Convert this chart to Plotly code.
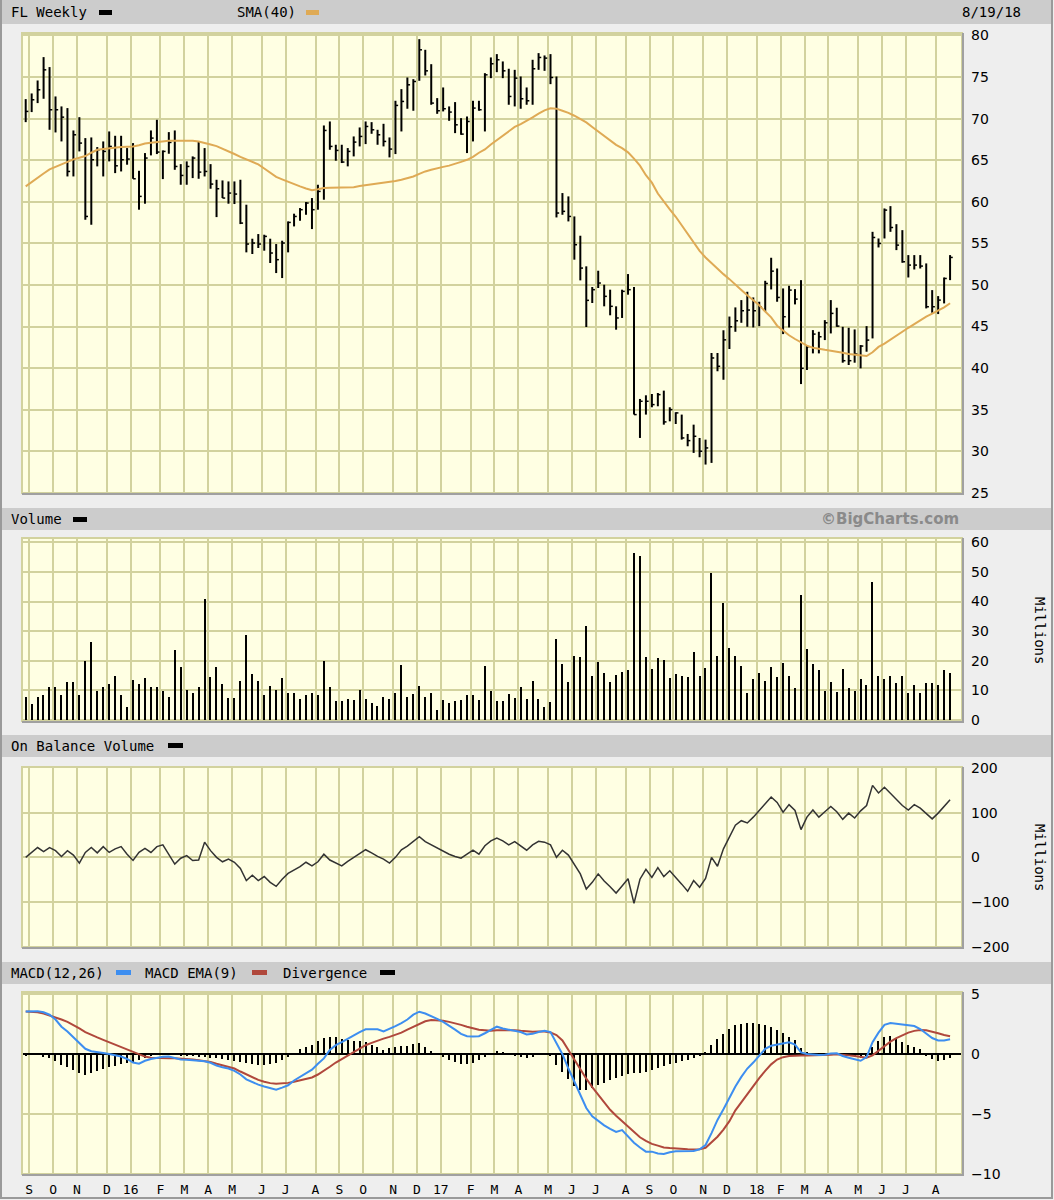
import plotly.graph_objects as go
import pandas as pd

# ---------------- data ----------------
weeks = pd.date_range("2015-08-28", periods=156, freq="W-FRI")

high = [72.35, 73.03, 74.59, 77.4, 76.2, 72.67, 71.47, 71.27, 68.58, 70.18,
        67.66, 67.74, 66.58, 67.26, 68.46, 67.94, 67.94, 66.46, 67.06, 63.73,
        65.86, 68.58, 69.86, 66.18, 68.38, 68.58, 64.53, 64.86, 65.46, 67.26,
        66.46, 64.53, 62.65, 62.57, 62.45, 62.45, 62.65, 59.65, 55.56, 56.12,
        56.04, 55.56, 54.92, 55.32, 57.64, 58.57, 59.25, 59.97, 60.45, 62.05,
        69.18, 69.66, 66.86, 66.86, 66.46, 67.86, 68.94, 69.66, 69.58, 68.66,
        69.38, 67.74, 72.15, 73.55, 74.95, 74.75, 79.56, 78.28, 76.55, 72.47,
        73.75, 71.47, 71.99, 70.06, 70.26, 72.15, 72.15, 75.47, 77.36, 77.76,
        76.88, 76.0, 75.87, 75.07, 73.75, 77.08, 77.88, 77.6, 77.76, 75.07,
        61.05, 60.65, 58.24, 55.92, 52.24, 49.75, 51.71, 50.03, 49.43, 47.43,
        49.43, 51.31, 49.75, 36.29, 36.73, 36.89, 37.01, 37.29, 35.29, 34.69,
        34.41, 32.08, 33.2, 31.6, 31.4, 41.82, 41.82, 44.55, 46.2, 47.3,
        48.18, 49.18, 48.5, 47.98, 50.5, 53.27, 51.98, 49.58, 49.9, 49.5,
        50.58, 42.77, 44.57, 44.37, 45.77, 48.18, 47.26, 44.97, 44.85, 44.65,
        42.77, 45.05, 56.39, 55.59, 59.2, 59.48, 57.31, 56.59, 53.59, 53.59,
        53.59, 52.59, 49.38, 48.66, 50.9, 53.59]

low = [69.58, 70.79, 71.87, 72.39, 68.66, 68.34, 67.26, 63.05, 63.05, 66.06,
       57.84, 57.24, 64.26, 63.05, 64.86, 63.45, 63.65, 64.46, 62.77, 59.05,
       59.77, 65.58, 65.74, 62.73, 65.78, 63.85, 62.05, 62.05, 62.85, 62.77,
       63.05, 61.57, 58.16, 60.45, 59.77, 59.73, 57.32, 53.92, 53.72, 54.44,
       54.12, 52.64, 51.43, 50.83, 53.92, 57.04, 57.72, 58.44, 56.72, 59.05,
       60.25, 66.26, 64.94, 64.66, 64.26, 65.46, 66.66, 66.94, 68.18, 66.86,
       66.66, 65.34, 65.74, 68.46, 71.19, 70.95, 74.55, 75.19, 71.67, 70.58,
       70.87, 69.74, 68.26, 68.06, 65.86, 67.26, 70.95, 68.46, 74.87, 75.59,
       74.87, 71.67, 71.47, 71.19, 71.67, 71.67, 75.87, 75.75, 74.15, 58.12,
       58.44, 57.64, 53.04, 50.55, 44.94, 47.83, 49.63, 47.43, 46.35, 44.62,
       46.03, 48.83, 34.41, 31.6, 34.41, 35.29, 35.41, 33.2, 33.6, 33.28,
       31.4, 30.6, 29.8, 29.28, 28.4, 28.6, 39.62, 38.6, 42.3, 44.37,
       45.45, 44.97, 44.89, 45.05, 46.78, 49.46, 47.98, 44.09, 44.89, 47.66,
       38.08, 39.77, 41.77, 41.77, 43.37, 44.17, 44.97, 40.65, 40.37, 40.65,
       39.97, 41.97, 43.57, 54.51, 55.59, 56.39, 54.19, 52.67, 50.9, 51.86,
       51.98, 47.18, 46.66, 46.5, 47.78, 50.58]

close = [70.87, 72.27, 73.47, 75.87, 71.07, 71.07, 70.18, 63.65, 68.06, 67.06,
         58.24, 65.06, 66.26, 66.06, 66.66, 64.33, 65.06, 65.14, 62.77, 60.65,
         65.26, 67.66, 65.98, 66.06, 67.14, 64.25, 63.17, 64.25, 65.26, 63.57,
         63.65, 62.13, 61.57, 60.45, 61.05, 60.93, 57.44, 54.92, 55.04, 54.92,
         55.84, 53.84, 53.04, 55.04, 57.52, 58.24, 59.05, 59.85, 59.05, 61.25,
         68.58, 66.66, 66.18, 64.78, 66.06, 67.18, 67.86, 69.06, 68.66, 68.06,
         67.26, 66.34, 71.59, 72.07, 74.07, 74.47, 78.28, 75.75, 71.87, 70.95,
         71.19, 70.79, 69.26, 68.14, 69.66, 71.27, 71.07, 75.27, 76.6, 77.08,
         75.75, 72.67, 74.87, 72.39, 72.15, 76.0, 77.36, 77.28, 74.95, 58.65,
         58.85, 58.24, 54.84, 52.03, 48.15, 49.43, 50.23, 48.63, 47.43, 46.03,
         49.23, 49.43, 34.41, 36.01, 36.01, 35.61, 36.81, 33.53, 35.01, 34.61,
         31.6, 31.28, 31.8, 30.0, 30.4, 41.22, 40.22, 43.4, 44.97, 45.69,
         46.9, 46.98, 46.9, 47.38, 50.18, 51.66, 48.5, 46.18, 49.38, 48.3,
         39.97, 42.57, 44.09, 43.77, 45.45, 46.58, 45.05, 40.89, 40.89, 41.69,
         42.65, 43.37, 55.71, 54.99, 59.0, 56.91, 54.79, 52.79, 52.39, 52.39,
         52.27, 47.38, 47.38, 48.18, 50.78, 53.31]

sma40 = [61.85, 62.4, 62.9, 63.4, 63.9, 64.2, 64.5, 64.8, 65.1, 65.3,
         65.5, 65.9, 66.25, 66.35, 66.45, 66.55, 66.6, 66.62, 66.65, 66.8,
         67.0, 67.1, 67.2, 67.3, 67.35, 67.35, 67.35, 67.35, 67.35, 67.25,
         67.1, 66.9, 66.7, 66.4, 66.1, 65.75, 65.4, 65.1, 64.8, 64.5,
         64.0, 63.5, 63.0, 62.7, 62.4, 62.1, 61.85, 61.6, 61.4, 61.5,
         61.65, 61.7, 61.7, 61.7, 61.72, 61.75, 61.9, 62.0, 62.1, 62.2,
         62.25, 62.35, 62.5, 62.65, 62.85, 63.05, 63.35, 63.65, 63.85, 64.05,
         64.2, 64.35, 64.55, 64.8, 65.05, 65.4, 65.9, 66.3, 66.9, 67.4,
         67.9, 68.45, 69.0, 69.35, 69.7, 70.15, 70.6, 71.0, 71.25, 71.2,
         70.95, 70.7, 70.35, 69.95, 69.55, 69.0, 68.45, 67.9, 67.3, 66.85,
         66.45, 65.95, 65.2, 64.35, 63.2, 62.3, 61.0, 60.0, 59.1, 58.2,
         57.2, 56.2, 55.2, 54.1, 53.3, 52.6, 51.9, 51.3, 50.7, 50.1,
         49.4, 48.75, 48.15, 47.55, 46.8, 46.1, 45.1, 44.5, 43.95, 43.5,
         43.1, 42.7, 42.45, 42.3, 42.2, 42.1, 42.0, 41.85, 41.7, 41.6,
         41.5, 41.45, 41.9, 42.55, 42.95, 43.45, 43.95, 44.4, 44.85, 45.3,
         45.8, 46.2, 46.55, 46.9, 47.3, 47.8]

volume = [7.7, 5.3, 7.7, 8.6, 11.1, 11.1, 8.6, 12.7, 12.7, 8.3,
          19.9, 26.2, 9.7, 11.1, 12.2, 14.9, 8.3, 4.4, 13.6, 12.2,
          14.1, 11.3, 11.3, 9.7, 7.7, 23.8, 17.9, 10.2, 9.2, 11.3,
          40.7, 14.6, 17.9, 12.2, 7.4, 7.4, 13.1, 28.8, 15.5, 13.1,
          8.6, 11.6, 10.0, 14.1, 9.2, 9.2, 7.2, 8.6, 9.2, 8.6,
          19.9, 11.1, 6.3, 6.3, 7.2, 6.8, 10.2, 7.2, 5.8, 4.8,
          7.7, 7.2, 9.2, 18.5, 7.7, 8.9, 11.6, 7.7, 9.2, 3.3,
          6.9, 5.8, 6.3, 6.9, 8.6, 8.3, 6.9,
          18.2, 9.9, 6.5, 6.5, 8.8, 7.3, 11.3, 7.0, 13.3, 7.0,
          4.5, 6.0, 27.2, 18.8, 12.9, 21.7, 21.2, 31.7, 14.9, 19.7,
          15.8, 12.9, 15.2, 16.3, 16.9, 56.3, 55.4, 21.2, 17.2, 20.8,
          20.3, 14.3, 15.4, 14.9, 14.4, 22.9, 14.9, 17.4, 49.5, 21.7,
          39.6, 24.2, 21.7, 18.2, 9.0, 13.8, 15.8, 13.3, 17.8, 14.4,
          19.4, 14.9, 10.9, 42.2, 23.9, 18.8, 16.9, 9.9, 12.9, 9.6,
          17.2, 10.9, 9.9, 13.8, 11.8, 46.5, 14.9, 13.8, 14.9, 12.4,
          14.9, 9.0, 11.8, 9.0, 12.4, 12.4, 11.8, 16.9, 15.8]

obv = [0, 11, 22, 13, 22, 15, 2, 15, 5, -13,
       11, 22, 10, 24, 11, 19, 24, 7, -7, 11,
       20, 11, 24, 28, 7, -15, -2, 4, -7, -6,
       34, 15, 0, -10, -4, -11, -25, -52, -40, -52,
       -43, -56, -65, -49, -36, -28, -21, -11, -19, -10,
       7, -6, -13, -19, -9, 0, 7, 17, 10, 2,
       -4, -13, 0, 17, 25, 35, 46, 35, 28, 22,
       15, 7, 2, -2, 7, 16, 7, 26, 37, 43,
       37, 28, 35, 25, 16, 28, 36, 34, 28, 0,
       16, 5, -16, -37, -71, -56, -37, -53, -66, -80,
       -64, -48, -103, -49, -27, -45, -23, -43, -30, -44,
       -60, -76, -52, -67, -47, 0, -20, 19, 46, 72,
       82, 77, 90, 105, 120, 135, 123, 101, 118, 105,
       62, 90, 106, 90, 102, 114, 102, 85, 99, 88,
       104, 116, 161, 144, 157, 144, 131, 116, 106, 118,
       110, 99, 86, 99, 114, 129]

macd = [3.56, 3.56, 3.6, 3.5, 3.3, 2.9, 2.3, 1.9, 1.4, 0.9,
        0.45, 0.25, 0.2, 0.1, 0.02, -0.08, -0.2, -0.4, -0.7, -0.8,
        -0.55, -0.4, -0.3, -0.22, -0.2, -0.35, -0.45, -0.47, -0.5, -0.55,
        -0.6, -0.72, -0.95, -1.1, -1.2, -1.4, -1.7, -2.1, -2.35, -2.55,
        -2.7, -2.85, -2.97, -2.8, -2.6, -2.2, -1.9, -1.65, -1.3, -0.8,
        -0.35, 0.35, 0.75, 1.0, 1.3, 1.6, 1.85, 2.08, 2.1, 2.08,
        1.9, 2.1, 2.35, 2.6, 2.9, 3.3, 3.55, 3.4, 3.2, 2.95,
        2.7, 2.4, 2.05, 1.7, 1.5, 1.47, 1.5, 1.75, 2.0, 2.3,
        2.15, 2.05, 1.95, 1.85, 1.65, 1.7, 1.85, 1.95, 1.85, 0.9,
        0.0, -1.2, -2.3, -3.3, -4.5, -5.2, -5.6, -5.95, -6.25, -6.5,
        -6.35, -6.9, -7.4, -7.8, -8.15, -8.15, -8.3, -8.35, -8.2, -8.12,
        -8.1, -8.1, -8.1, -7.95, -7.6, -6.6, -5.5, -4.6, -3.6, -2.7,
        -1.9, -1.2, -0.7, -0.1, 0.45, 0.7, 0.8, 0.9, 1.0, 0.8,
        0.15, 0.02, -0.05, -0.06, -0.05, 0.05, 0.08, -0.15, -0.3, -0.4,
        -0.55, -0.25, 1.0, 1.8, 2.45, 2.6, 2.55, 2.45, 2.4, 2.35,
        2.1, 1.75, 1.35, 1.15, 1.15, 1.25]

signal = [3.56, 3.56, 3.5, 3.4, 3.25, 3.1, 2.9, 2.7, 2.45, 2.15,
          1.85, 1.6, 1.4, 1.2, 1.0, 0.8, 0.55, 0.35, 0.15, -0.05,
          -0.2, -0.3, -0.33, -0.33, -0.33, -0.33, -0.35, -0.4, -0.45, -0.5,
          -0.58, -0.65, -0.8, -0.92, -1.05, -1.2, -1.45, -1.7, -1.95, -2.15,
          -2.3, -2.42, -2.47, -2.45, -2.4, -2.3, -2.2, -2.1, -1.95, -1.7,
          -1.4, -1.05, -0.7, -0.4, -0.1, 0.2, 0.45, 0.75, 0.95, 1.15,
          1.3, 1.45, 1.6, 1.8, 2.05, 2.3, 2.55, 2.75, 2.85, 2.85,
          2.8, 2.7, 2.6, 2.45, 2.3, 2.15, 2.05, 2.0, 1.95, 2.0,
          2.02, 2.03, 2.0, 1.95, 1.9, 1.88, 1.89, 1.89, 1.82, 1.6,
          1.15, 0.35, -0.4, -1.3, -2.05, -2.75, -3.4, -4.05, -4.65, -5.15,
          -5.6, -6.0, -6.5, -6.95, -7.25, -7.5, -7.65, -7.8, -7.85, -7.9,
          -7.92, -7.95, -7.97, -7.95, -7.83, -7.4, -6.9, -6.3, -5.6, -4.7,
          -4.0, -3.3, -2.7, -2.0, -1.4, -0.85, -0.45, -0.25, -0.15, -0.11,
          -0.1, -0.1, -0.1, -0.08, -0.07, -0.05, 0.0, -0.02, -0.1, -0.15,
          -0.25, -0.3, -0.1, 0.3, 0.7, 1.05, 1.35, 1.6, 1.8, 1.95,
          2.02, 2.0, 1.9, 1.75, 1.6, 1.5]

divergence = [-0.1, -0.05, -0.05, -0.2, -0.35, -0.6, -0.9, -1.1, -1.35, -1.55,
              -1.7, -1.6, -1.4, -1.2, -1.1, -1.0, -0.85, -0.75, -0.65, -0.5,
              -0.3, -0.15, -0.05, 0.05, 0.05, -0.05, -0.1, -0.12, -0.15, -0.2,
              -0.25, -0.3, -0.35, -0.4, -0.45, -0.55, -0.65, -0.75, -0.85, -0.9,
              -0.9, -0.85, -0.7, -0.5, -0.25, 0.1, 0.4, 0.6, 0.8, 1.1,
              1.35, 1.4, 1.4, 1.3, 1.2, 1.1, 1.1, 1.0, 0.8, 0.6,
              0.35, 0.5, 0.6, 0.65, 0.7, 0.85, 0.9, 0.6, 0.3, 0.0,
              -0.2, -0.45, -0.65, -0.8, -0.8, -0.7, -0.5, -0.2, 0.05, 0.25,
              0.2, 0.0, -0.1, -0.25, -0.3, -0.2, -0.05, 0.05, -0.1, -0.9,
              -1.5, -2.1, -2.7, -3.0, -3.0, -2.8, -2.6, -2.4, -2.2, -2.0,
              -1.8, -1.65, -1.6, -1.55, -1.45, -1.3, -1.15, -1.0, -0.85, -0.7,
              -0.55, -0.45, -0.3, -0.15, 0.2, 0.8, 1.3, 1.7, 2.1, 2.4,
              2.55, 2.6, 2.6, 2.55, 2.45, 2.3, 2.05, 1.75, 1.45, 1.15,
              0.5, 0.2, 0.1, 0.05, 0.03, 0.05, 0.08, -0.05, -0.12, -0.2,
              -0.3, -0.1, 0.6, 1.1, 1.45, 1.5, 1.3, 1.05, 0.8, 0.6,
              0.4, -0.1, -0.4, -0.55, -0.45, -0.3]

price_ticks = [25, 30, 35, 40, 45, 50, 55, 60, 65, 70, 75, 80]
vol_ticks = [0, 10, 20, 30, 40, 50, 60]
obv_ticks = [-200, -100, 0, 100, 200]
macd_ticks = [-10, -5, 0, 5]

# ---------------- styling ----------------
W, H = 1054, 1200
PAPER = "#eeeeee"
HEADER = "#cccccc"
PLOTBG = "#ffffe3"
GRID = "#d2d29e"
SMA_C = "#dfaa55"
BLUE = "#3d8ef0"
RED = "#b0483c"
MONO = "DejaVu Sans Mono"
SANS = "DejaVu Sans"

def px(x):
    return x / W

def py(y):
    return 1 - y / H

X0, X1 = 22, 962
PANELS = {"price": (33, 493), "vol": (538, 721), "obv": (767, 947), "macd": (992, 1174)}

idx = list(range(len(weeks)))

# month ticks: gridline just before the first week whose Sunday falls in a new month
sundays = weeks + pd.Timedelta(days=2)
tickvals, ticktext = [], []
for i in range(1, len(weeks)):
    if sundays[i].month != sundays[i - 1].month:
        tickvals.append(i - 0.4)
        m = sundays[i].month
        ticktext.append(f"{sundays[i].year % 100:02d}" if m == 1 else "JFMAMJJASOND"[m - 1])

fig = go.Figure()

# price HL bars + close ticks
bx, by, cx, cy = [], [], [], []
for i, (h, l, c) in enumerate(zip(high, low, close)):
    bx += [i, i, None]
    by += [l, h, None]
    cx += [i, i + 0.45, None]
    cy += [c, c, None]
fig.add_trace(go.Scatter(x=bx, y=by, mode="lines", line=dict(color="black", width=2),
                         xaxis="x", yaxis="y", hoverinfo="skip"))
fig.add_trace(go.Scatter(x=cx, y=cy, mode="lines", line=dict(color="black", width=1.5),
                         xaxis="x", yaxis="y", hoverinfo="skip"))
fig.add_trace(go.Scatter(x=idx, y=sma40, mode="lines", line=dict(color=SMA_C, width=2),
                         xaxis="x", yaxis="y"))

# volume
fig.add_trace(go.Bar(x=idx, y=volume, width=0.2, marker=dict(color="black", line=dict(width=0)),
                     xaxis="x2", yaxis="y2"))
# OBV
fig.add_trace(go.Scatter(x=idx, y=obv, mode="lines", line=dict(color="#333333", width=1.5),
                         xaxis="x3", yaxis="y3"))
# MACD
fig.add_trace(go.Bar(x=idx, y=divergence, width=0.2, marker=dict(color="black", line=dict(width=0)),
                     xaxis="x4", yaxis="y4"))
fig.add_trace(go.Scatter(x=idx, y=signal, mode="lines", line=dict(color=RED, width=2),
                         xaxis="x4", yaxis="y4"))
fig.add_trace(go.Scatter(x=idx, y=macd, mode="lines", line=dict(color=BLUE, width=2),
                         xaxis="x4", yaxis="y4"))

xrange_ = [-0.62, 157.0]
def xax(anchor, labels=False):
    d = dict(domain=[px(X0), px(X1)], range=xrange_, anchor=anchor, tickmode="array",
             tickvals=tickvals, ticktext=ticktext, showgrid=True, gridcolor=GRID, gridwidth=2,
             zeroline=False, showline=False, ticks="", showticklabels=labels, fixedrange=True,
             automargin=False)
    if labels:
        d["tickfont"] = dict(family=MONO, size=13, color="black")
        d["ticklabelstandoff"] = 6
    return d

def yax(anchor, panel, rng, tv, zero=False):
    top, bot = PANELS[panel]
    d = dict(domain=[py(bot), py(top)], range=rng, anchor=anchor, side="right",
             tickmode="array", tickvals=tv, showgrid=True, gridcolor=GRID, gridwidth=2,
             zeroline=zero, showline=False, ticks="", fixedrange=True, automargin=False,
             tickfont=dict(family=SANS, size=14, color="black"), ticklabelstandoff=8)
    if zero:
        d["zerolinecolor"] = "black"
        d["zerolinewidth"] = 2
    return d

shapes = []
annotations = []

# outer border
shapes.append(dict(type="rect", xref="paper", yref="paper", x0=px(1), x1=px(1052), y0=py(1198), y1=py(1),
                   line=dict(color="#9a9a9a", width=2), fillcolor="rgba(0,0,0,0)", layer="below"))

# header bands
for (t, b) in [(0, 24), (508, 530), (735, 757), (962, 984)]:
    shapes.append(dict(type="rect", xref="paper", yref="paper", x0=px(2), x1=px(1051), y0=py(b), y1=py(t),
                       line=dict(width=0), fillcolor=HEADER, layer="below"))

# plot borders and shadows
for name, (t, b) in PANELS.items():
    shapes.append(dict(type="rect", xref="paper", yref="paper", x0=px(X0), x1=px(X1), y0=py(b), y1=py(t),
                       line=dict(color=GRID, width=2), fillcolor="rgba(0,0,0,0)", layer="above"))
    shapes.append(dict(type="line", xref="paper", yref="paper", x0=px(X0), x1=px(X1 + 2), y0=py(b + 1), y1=py(b + 1),
                       line=dict(color="#a0a0a0", width=2)))
    shapes.append(dict(type="line", xref="paper", yref="paper", x0=px(X1 + 1), x1=px(X1 + 1), y0=py(b + 1), y1=py(t),
                       line=dict(color="#a0a0a0", width=2)))

def text(x, y, s, anchor="left", color="black", size=14, family=MONO, angle=0):
    annotations.append(dict(x=px(x), y=py(y), xref="paper", yref="paper", text=s, showarrow=False,
                            xanchor=anchor, yanchor="middle", textangle=angle,
                            font=dict(family=family, size=size, color=color)))

def swatch(x0, x1, yc, color):
    shapes.append(dict(type="rect", xref="paper", yref="paper", x0=px(x0), x1=px(x1),
                       y0=py(yc + 2.5), y1=py(yc - 2.5), line=dict(width=0), fillcolor=color))

text(9, 12.5, "FL Weekly"); swatch(99, 112, 12.5, "black")
text(235, 12.5, "SMA(40)"); swatch(306, 319, 12.5, SMA_C)
text(1023, 12.5, "8/19/18", anchor="right")
text(9, 519.5, "Volume"); swatch(73, 87, 519.5, "black")
text(961, 519.5, "<b>©BigCharts.com</b>", anchor="right", color="#8a8a8a", size=15, family=SANS)
text(9, 745.5, "On Balance Volume"); swatch(168, 183, 745.5, "black")
text(9, 972.5, "MACD(12,26)"); swatch(116, 131, 972.5, BLUE)
text(143, 972.5, "MACD EMA(9)"); swatch(252, 267, 972.5, RED)
text(281, 972.5, "Divergence"); swatch(380, 395, 972.5, "black")
text(1040, 630, "Millions", anchor="center", angle=90)
text(1040, 857, "Millions", anchor="center", angle=90)

fig.update_layout(
    width=W, height=H, margin=dict(l=0, r=0, t=0, b=0, pad=0, autoexpand=False),
    paper_bgcolor=PAPER, plot_bgcolor=PLOTBG, showlegend=False, bargap=0,
    xaxis=xax("y"), xaxis2=xax("y2"), xaxis3=xax("y3"), xaxis4=xax("y4", labels=True),
    yaxis=yax("x", "price", [24.98, 80.3], price_ticks),
    yaxis2=yax("x2", "vol", [-0.34, 61.45], vol_ticks),
    yaxis3=yax("x3", "obv", [-200.7, 202.2], obv_ticks),
    yaxis4=yax("x4", "macd", [-10.02, 5.2], macd_ticks, zero=True),
    shapes=shapes, annotations=annotations,
)

fig.write_html(
    "out.html",
    config={"displayModeBar": False},
    post_script="document.body.style.margin='0px';document.body.style.padding='0px';",
)
